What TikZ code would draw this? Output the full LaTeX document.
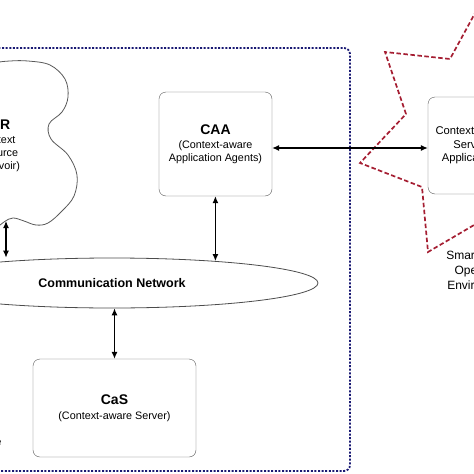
\documentclass[tikz,border=0pt]{standalone}
\usepackage{fontspec}
\setmainfont{Liberation Sans}
\usetikzlibrary{shapes.geometric, arrows.meta}

\newcommand{\boxtitle}{\fontsize{14}{16}\selectfont\bfseries}

\begin{document}
\begin{tikzpicture}[x=1pt, y=-1pt,
        agentbox/.style={draw=black!65, rounded corners=7pt, align=center, inner sep=0pt,
                         font=\fontsize{10.8}{13}\selectfont},
        link/.style={{Latex[length=7pt,width=6pt]}-{Latex[length=7pt,width=6pt]}, line width=1.1pt},
        spaceline/.style={draw={rgb,255:red,25;green,25;blue,115}, line width=1.8pt,
                          dash pattern=on 2pt off 1.6pt, rounded corners=6pt},
        starline/.style={draw={rgb,255:red,165;green,30;blue,50}, line width=1.7pt,
                         dash pattern=on 4.5pt off 2.5pt, line join=miter}]
        \useasboundingbox (0,0) rectangle (474,474);
        \clip (0,0) rectangle (474,474);

        % Smart space boundary
        \draw[spaceline] (-20,48) rectangle (350,471);
        \node[anchor=east, font=\fontsize{10.5}{13}\selectfont] (spacelbl) at (5,443) {Smart Space};

        % Open environment (star)
        \draw[starline] (480,4) -- (450,59) -- (385,52) -- (406,114) -- (360,163)
            -- (422,187) -- (428,252) -- (486,218);
        \node[align=center, font=\fontsize{12}{15}\selectfont] (openlbl) at (481,270)
            {Smart Space\\Operating\\Environment};

        % Context resource reservoir (cloud)
        \draw[black!65, line width=0.8pt] plot[smooth, tension=0.6] coordinates {
            (-12,70) (-4,63) (10,61) (28,61) (50,65) (65,79) (68,97) (62,112) (49,124)
            (51,139) (68,155) (77,175) (74,196) (62,211) (48,223) (36,225) (24,221)
            (13,218) (4,222) (-8,232)};
        \node[align=center, font=\fontsize{10.8}{13}\selectfont] (crr) at (-5,146)
            {{\boxtitle CRR}\\[1pt](Context\\Resource\\Reservoir)};
        \coordinate (crrfoot) at (6,221);

        % Agents and servers
        \node[agentbox, minimum width=113pt, minimum height=104pt] (caa) at (215.5,144)
            {{\boxtitle CAA}\\[1pt](Context-aware\\Application Agents)};
        \node[agentbox, minimum width=88pt, minimum height=97pt, font=\fontsize{11.2}{13.5}\selectfont]
            (csa) at (472,145.5) {Context-aware\\Service\\Applications};
        \node[agentbox, minimum width=163pt, minimum height=98pt] (cas) at (114.5,408)
            {{\boxtitle CaS}\\[2pt](Context-aware Server)};

        % Communication network
        \node[ellipse, draw=black!70, line width=0.8pt, minimum width=412pt, minimum height=50pt,
              font=\fontsize{12.5}{14}\selectfont\bfseries] (net) at (112,283) {Communication Network};

        % Connections
        \draw[link] (crrfoot) -- (crrfoot |- net.north);
        \draw[link] (caa.south -| net.12) -- (net.12);
        \draw[link] (net.south -| cas.north) -- (cas.north);
        \draw[link] ([yshift=-4pt]caa.east) -- ([yshift=-4pt]caa.east -| csa.west);
\end{tikzpicture}
\end{document}
